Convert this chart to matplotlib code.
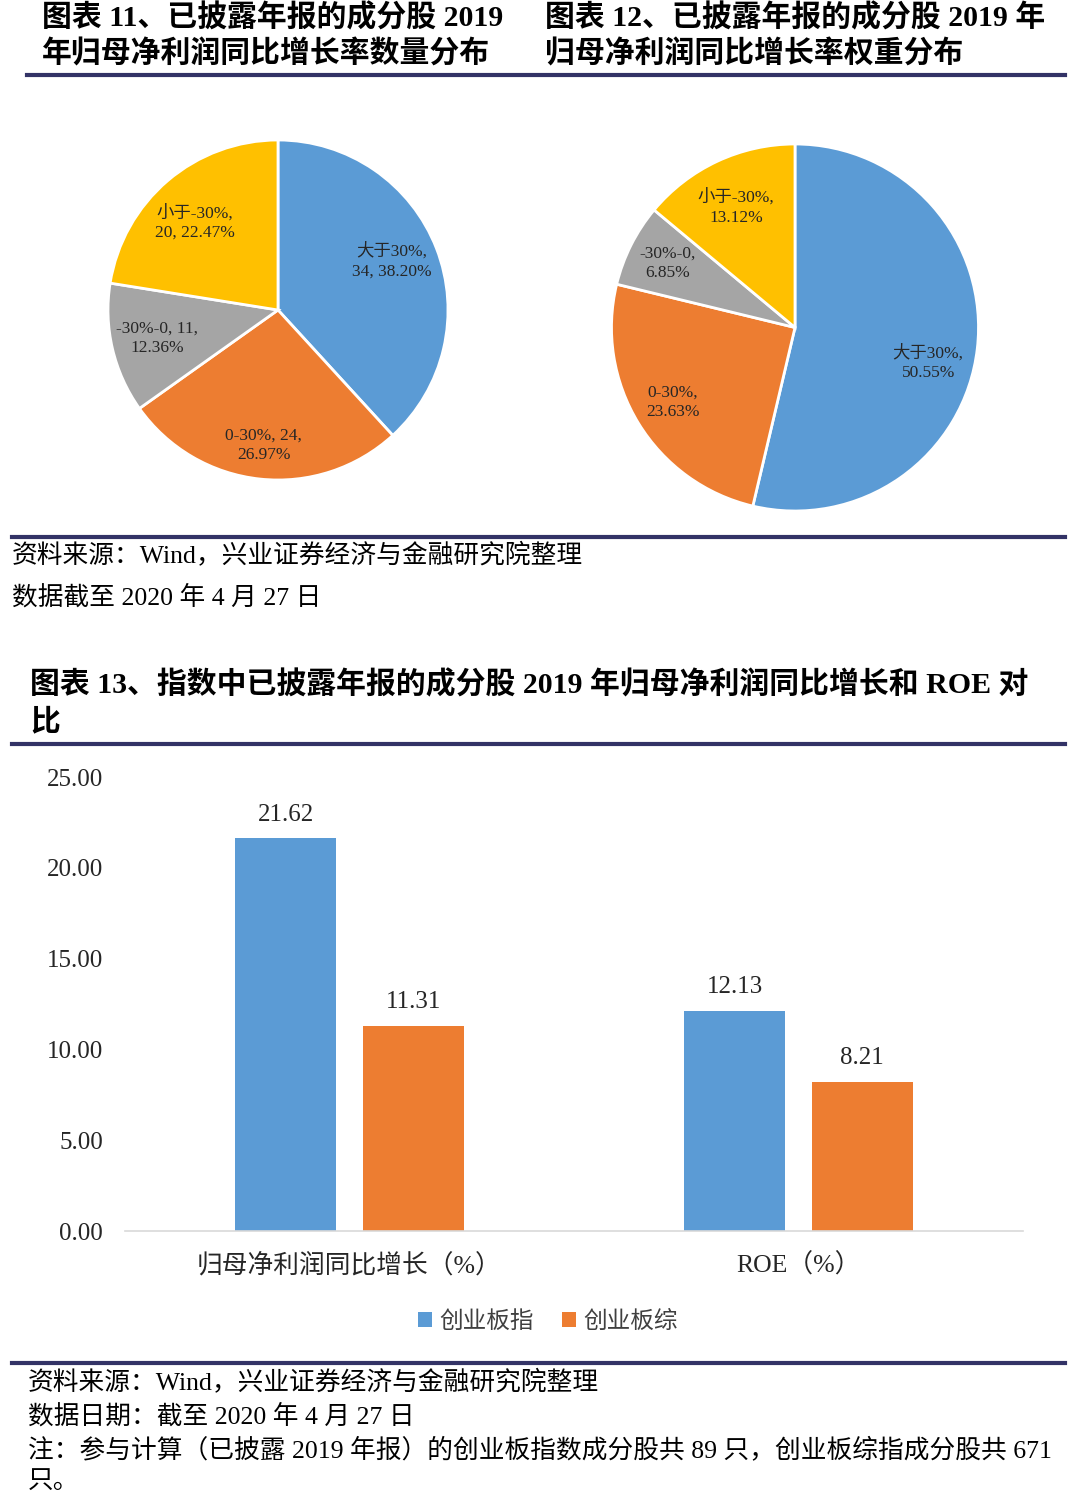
import numpy as np
import matplotlib
matplotlib.use('Agg')
import matplotlib.pyplot as plt
from matplotlib.lines import Line2D

W, H = 1080, 1505
FAM = ['Liberation Serif', 'Noto Sans CJK SC']
plt.rcParams['font.family'] = FAM

# pie data
pie_cats = ['大于30%', '0-30%', '-30%-0', '小于-30%']
count_vals = [34, 24, 11, 20]
count_pcts = [38.20, 26.97, 12.36, 22.47]
weight_pcts = [50.55, 23.63, 6.85, 13.12]

# bar data
bar_cats = ['归母净利润同比增长（%）', 'ROE（%）']
series_names = ['创业板指', '创业板综']
chuangye_zhi = [21.62, 12.13]
chuangye_zong = [11.31, 8.21]

BLUE, ORANGE, GRAY, YELLOW = '#5B9BD5', '#ED7D31', '#A5A5A5', '#FFC000'
NAVY = '#333366'
TXT = '#262626'


def fx(p):
    return p / W


def fy(p):
    return 1 - p / H


fig = plt.figure(figsize=(W / 100, H / 100), dpi=100)
fig.patch.set_facecolor('white')


def rule(x0, x1, y, lw=3):
    fig.add_artist(Line2D([fx(x0), fx(x1)], [fy(y), fy(y)], color=NAVY, lw=lw,
                          transform=fig.transFigure))


def draw_pie(rect, vals, labels, dists, shifts):
    ax = fig.add_axes(rect)
    wedges, _ = ax.pie(vals, colors=[BLUE, ORANGE, GRAY, YELLOW], startangle=90,
                       counterclock=False, radius=1,
                       wedgeprops=dict(edgecolor='white', linewidth=2))
    for w, lab, d, s in zip(wedges, labels, dists, shifts):
        ang = np.deg2rad((w.theta1 + w.theta2) / 2 + s)
        ax.text(d * np.cos(ang), d * np.sin(ang), lab, ha='center', va='center',
                fontsize=12.5, color=TXT, linespacing=1.3)
    ax.set_xlim(-1, 1)
    ax.set_ylim(-1, 1)
    ax.set_aspect('equal')
    ax.axis('off')


# ---- titles of the two pies
tkw = dict(fontsize=21.5, fontweight='bold', color='black', va='center', ha='left')
fig.text(fx(42), fy(18), '图表 11、已披露年报的成分股 2019', **tkw)
fig.text(fx(42), fy(54), '年归母净利润同比增长率数量分布', **tkw)
fig.text(fx(545), fy(18), '图表 12、已披露年报的成分股 2019 年', **tkw)
fig.text(fx(545), fy(54), '归母净利润同比增长率权重分布', **tkw)
rule(27, 1065, 75)

lab1 = [f'{c},\n{n}, {p:.2f}%' for c, n, p in zip(pie_cats, count_vals, count_pcts)]
lab1[1] = f'{pie_cats[1]}, {count_vals[1]},\n{count_pcts[1]:.2f}%'
lab1[2] = f'{pie_cats[2]}, {count_vals[2]},\n{count_pcts[2]:.2f}%'
draw_pie([fx(108), fy(480), 340 / W, 340 / H], count_vals, lab1,
         [0.73, 0.80, 0.73, 0.71], [2, 0, 0, 3])

lab2 = [f'{c},\n{p:.2f}%' for c, p in zip(pie_cats, weight_pcts)]
draw_pie([fx(611), fy(511), 368 / W, 367 / H], weight_pcts, lab2,
         [0.75, 0.78, 0.78, 0.73], [-8, 0, 0, 1])

# ---- sources under pies
rule(12, 1065, 537)
skw = dict(fontsize=18.5, color='black', va='center', ha='left')
fig.text(fx(12), fy(556), '资料来源：Wind，兴业证券经济与金融研究院整理', **skw)
fig.text(fx(12), fy(597), '数据截至 2020 年 4 月 27 日', **skw)

# ---- bar chart title
fig.text(fx(30), fy(685), '图表 13、指数中已披露年报的成分股 2019 年归母净利润同比增长和 ROE 对', **tkw)
fig.text(fx(30), fy(722), '比', **tkw)
rule(12, 1065, 744)

ax = fig.add_axes([fx(125), fy(1231), (1023 - 125) / W, (1231 - 777) / H])
x = np.arange(len(bar_cats))
bw = 0.225
off = 0.142
b1 = ax.bar(x - off, chuangye_zhi, bw, color=BLUE, label=series_names[0])
b2 = ax.bar(x + off, chuangye_zong, bw, color=ORANGE, label=series_names[1])
for bars in (b1, b2):
    for r in bars:
        ax.annotate(f'{r.get_height():.2f}', (r.get_x() + r.get_width() / 2, r.get_height()),
                    xytext=(0, 9), textcoords='offset points', ha='center', va='bottom',
                    fontsize=18, color=TXT)
ax.set_xlim(-0.5, 1.5)
ax.set_ylim(0, 25)
ax.set_yticks(np.arange(0, 26, 5))
ax.set_yticklabels([f'{v:.2f}' for v in np.arange(0, 26, 5)])
ax.set_xticks(x)
ax.set_xticklabels(bar_cats)
ax.tick_params(axis='y', length=0, pad=16, labelsize=18, labelcolor=TXT)
ax.tick_params(axis='x', length=0, pad=16, labelsize=18.5, labelcolor=TXT)
for s in ['top', 'right', 'left']:
    ax.spines[s].set_visible(False)
ax.spines['bottom'].set_color('#D9D9D9')
ax.spines['bottom'].set_linewidth(1.2)

leg = fig.legend(handles=[b1, b2], loc='center', bbox_to_anchor=(fx(548), fy(1322)), ncol=2,
                 frameon=False, fontsize=17, handlelength=0.6, handleheight=0.6,
                 handletextpad=0.3, columnspacing=1.2)
for t in leg.get_texts():
    t.set_color('#404040')

# ---- bottom notes
rule(12, 1065, 1363)
fig.text(fx(28), fy(1383), '资料来源：Wind，兴业证券经济与金融研究院整理', **skw)
fig.text(fx(28), fy(1416), '数据日期：截至 2020 年 4 月 27 日', **skw)
fig.text(fx(28), fy(1450), '注：参与计算（已披露 2019 年报）的创业板指数成分股共 89 只，创业板综指成分股共 671', **skw)
fig.text(fx(28), fy(1482), '只。', **skw)

fig.savefig('out.png', dpi=100, facecolor='white')
